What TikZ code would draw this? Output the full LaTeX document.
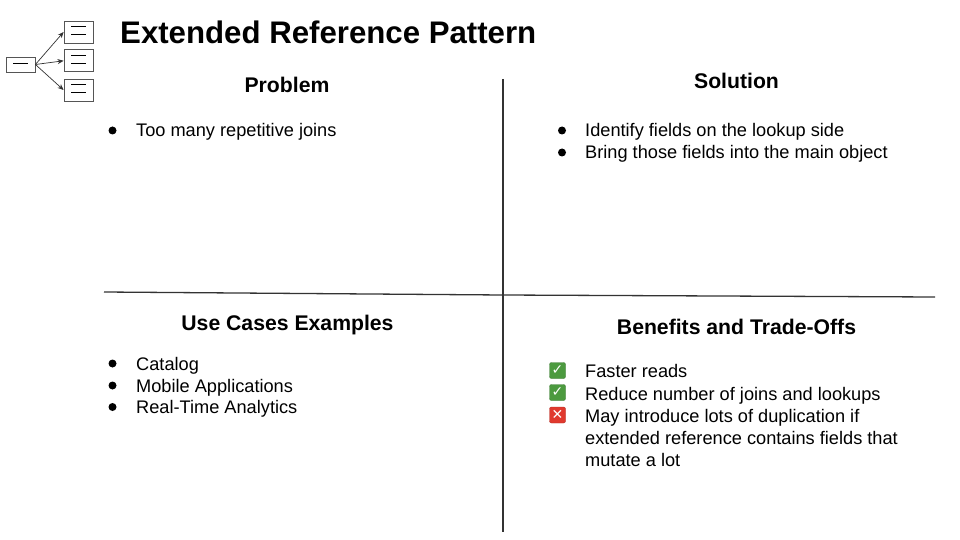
\documentclass[tikz,border=0pt]{standalone}
\usepackage{fontspec}
\setmainfont{Liberation Sans}
\newfontfamily\symfont{DejaVu Sans}
\usepackage{amsmath}
\usetikzlibrary{arrows.meta}
\definecolor{okgreen}{HTML}{4C9A3F}
\definecolor{badred}{HTML}{E0392E}
\definecolor{rulegray}{HTML}{333333}
\definecolor{boxgray}{HTML}{555555}
\newcommand{\oneline}{\rule[2.5pt]{15pt}{1.2pt}}
\newcommand{\twolines}{\rule[2.5pt]{15pt}{.8pt}\\[2pt]\rule[2.5pt]{15pt}{1.2pt}}
\tikzset{
    title/.style={anchor=base west, inner sep=0pt, font=\fontsize{31.2}{34}\selectfont\bfseries},
    head/.style={anchor=base, font=\fontsize{21.2}{24}\selectfont\bfseries},
    item/.style={anchor=base west, font=\fontsize{18.2}{22}\selectfont, inner sep=0pt},
    dot/.style={circle, fill=black, inner sep=0pt, minimum size=8pt},
    divider/.style={draw=rulegray, line width=1.3pt},
    schema/.style={draw=boxgray, line width=.8pt, fill=white, inner sep=0pt, minimum width=29pt, minimum height=22pt, align=center, font=\fontsize{6}{6}\selectfont},
    link/.style={draw=rulegray, line width=.7pt, -{Stealth[length=6pt,width=5pt]}},
    flag/.style={draw=#1!80!black, fill=#1, rounded corners=2pt, minimum size=16pt, inner sep=0pt, text=white, font=\symfont\fontsize{14}{14}\selectfont},
}
\begin{document}
\begin{tikzpicture}[x=1pt, y=-1pt]
\useasboundingbox (0,0) rectangle (960,540);
% schema icon
\node [schema, minimum height=15pt] (main) at (20.5,64.5) {\oneline};
\node [schema] (refa) at (78.5,32) {\twolines};
\node [schema] (refb) at (78.5,60.8) {\twolines};
\node [schema] (refc) at (78.5,90) {\twolines};
\foreach \ref in {refa,refb,refc}
    \draw [link] (main.east) -- (\ref.west);
% title and headings
\node [title] (heading) at (120,44) {Extended Reference Pattern};
\node [head] (problem) at (287,93) {Problem};
\node [head] (solution) at (736.5,88.7) {Solution};
\node [head] (usecases) at (287.5,330.5) {Use Cases Examples};
\node [head] (benefits) at (736.5,334.5) {Benefits and Trade-Offs};
% dividers
\coordinate (top) at (503,79);
\coordinate (bottom) at (503,532);
\coordinate (left) at (104,292);
\coordinate (right) at (935,297);
\coordinate (middle) at (503,295);
\draw [divider] (top) -- (bottom);
\draw [divider] (left) -- (middle) -- (right);
% problem
\node [dot] (dotp) at (112.5,130.5) {};
\node [item] (itemp) at (136,136.7) {Too many repetitive joins};
% solution
\node [dot] (dots1) at (562,130.5) {};
\node [item] (items1) at (585,136.7) {Identify fields on the lookup side};
\node [dot] (dots2) at (562,152.5) {};
\node [item] (items2) at (585,158.7) {Bring those fields into the main object};
% use cases
\foreach \name/\y/\label in {a/370/Catalog, b/392/Mobile Applications, c/413.5/Real-Time Analytics} {
    \node [dot] (dot\name) at (112.5,\y-6.5) {};
    \node [item] (use\name) at (136,\y) {\label};
}
% benefits
\node [flag=okgreen] (flaga) at (557.5,370.5) {✓};
\node [flag=okgreen] (flagb) at (557.5,392.5) {✓};
\node [flag=badred] (flagc) at (557.5,415) {✕};
\node [item] (bena) at (585,377.5) {Faster reads};
\node [item] (benb) at (585,400) {Reduce number of joins and lookups};
\node [item] (benc) at (585,422) {May introduce lots of duplication if};
\node [item] (bend) at (585,444.5) {extended reference contains fields that};
\node [item] (bene) at (585,466.5) {mutate a lot};
\end{tikzpicture}
\end{document}
